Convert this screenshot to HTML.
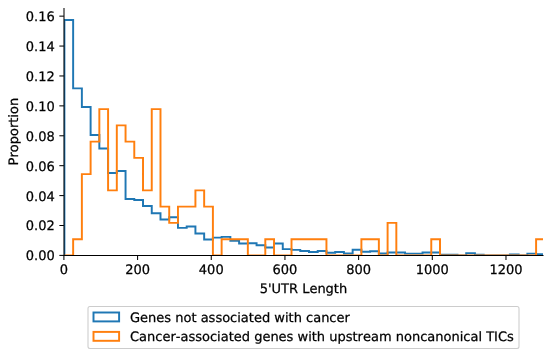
<!DOCTYPE html>
<html><head><meta charset="utf-8"><style>
html,body{margin:0;padding:0;background:#fff;}
body{width:550px;height:356px;overflow:hidden;}
svg{display:block;text-rendering:geometricPrecision;font-kerning:none;}
text{stroke:#000;stroke-width:0.25px;}
</style></head><body>
<svg width="550" height="356" viewBox="0 0 550 356">
<rect width="550" height="356" fill="#ffffff"/>
<defs><clipPath id="ax"><rect x="63.9" y="7.9" width="479.1" height="247.5"/></clipPath></defs>
<g clip-path="url(#ax)" fill="none" stroke-width="1.95" stroke-linejoin="miter" stroke-linecap="butt">
<path d="M64.40,255.40 L64.40,20.04 L73.14,20.04 L73.14,88.37 L81.87,88.37 L81.87,107.07 L90.61,107.07 L90.61,135.03 L99.34,135.03 L99.34,148.49 L108.08,148.49 L108.08,173.01 L116.81,173.01 L116.81,171.07 L125.55,171.07 L125.55,199.03 L134.28,199.03 L134.28,199.92 L143.01,199.92 L143.01,206.06 L151.75,206.06 L151.75,213.23 L160.49,213.23 L160.49,219.51 L169.22,219.51 L169.22,217.27 L177.95,217.27 L177.95,227.89 L186.69,227.89 L186.69,226.54 L195.42,226.54 L195.42,233.42 L204.16,233.42 L204.16,239.55 L212.90,239.55 L212.90,237.61 L221.63,237.61 L221.63,236.86 L230.36,236.86 L230.36,240.75 L239.10,240.75 L239.10,243.44 L247.84,243.44 L247.84,243.29 L256.57,243.29 L256.57,245.23 L265.30,245.23 L265.30,247.47 L274.04,247.47 L274.04,243.59 L282.77,243.59 L282.77,249.12 L291.51,249.12 L291.51,249.87 L300.25,249.87 L300.25,250.91 L308.98,250.91 L308.98,251.96 L317.72,251.96 L317.72,251.06 L326.45,251.06 L326.45,252.71 L335.18,252.71 L335.18,251.96 L343.92,251.96 L343.92,253.46 L352.65,253.46 L352.65,249.72 L361.39,249.72 L361.39,251.66 L370.12,251.66 L370.12,251.21 L378.86,251.21 L378.86,253.46 L387.60,253.46 L387.60,252.41 L396.33,252.41 L396.33,252.41 L405.06,252.41 L405.06,253.61 L413.80,253.61 L413.80,253.61 L422.53,253.61 L422.53,252.56 L431.27,252.56 L431.27,252.56 L440.00,252.56 L440.00,254.80 L448.74,254.80 L448.74,254.80 L457.48,254.80 L457.48,255.40 L466.21,255.40 L466.21,253.16 L474.94,253.16 L474.94,254.65 L483.68,254.65 L483.68,255.40 L492.41,255.40 L492.41,255.40 L501.15,255.40 L501.15,255.40 L509.88,255.40 L509.88,254.50 L518.62,254.50 L518.62,255.40 L527.36,255.40 L527.36,253.61 L536.09,253.61 L536.09,254.20 L544.82,254.20 L544.82,255.40" stroke="#1f77b4"/>
<path d="M64.40,255.40 L64.40,255.40 L73.14,255.40 L73.14,239.15 L81.87,239.15 L81.87,174.13 L90.61,174.13 L90.61,141.63 L99.34,141.63 L99.34,109.12 L108.08,109.12 L108.08,190.39 L116.81,190.39 L116.81,125.37 L125.55,125.37 L125.55,141.63 L134.28,141.63 L134.28,157.88 L143.01,157.88 L143.01,190.39 L151.75,190.39 L151.75,109.12 L160.49,109.12 L160.49,206.64 L169.22,206.64 L169.22,222.89 L177.95,222.89 L177.95,206.64 L186.69,206.64 L186.69,206.64 L195.42,206.64 L195.42,190.39 L204.16,190.39 L204.16,206.64 L212.90,206.64 L212.90,255.40 L221.63,255.40 L221.63,239.15 L230.36,239.15 L230.36,239.15 L239.10,239.15 L239.10,239.15 L247.84,239.15 L247.84,255.40 L256.57,255.40 L256.57,255.40 L265.30,255.40 L265.30,239.15 L274.04,239.15 L274.04,255.40 L282.77,255.40 L282.77,255.40 L291.51,255.40 L291.51,239.15 L300.25,239.15 L300.25,239.15 L308.98,239.15 L308.98,239.15 L317.72,239.15 L317.72,239.15 L326.45,239.15 L326.45,255.40 L335.18,255.40 L335.18,255.40 L343.92,255.40 L343.92,255.40 L352.65,255.40 L352.65,255.40 L361.39,255.40 L361.39,239.15 L370.12,239.15 L370.12,239.15 L378.86,239.15 L378.86,255.40 L387.60,255.40 L387.60,222.89 L396.33,222.89 L396.33,255.40 L405.06,255.40 L405.06,255.40 L413.80,255.40 L413.80,255.40 L422.53,255.40 L422.53,255.40 L431.27,255.40 L431.27,239.15 L440.00,239.15 L440.00,255.40 L448.74,255.40 L448.74,255.40 L457.48,255.40 L457.48,255.40 L466.21,255.40 L466.21,255.40 L474.94,255.40 L474.94,255.40 L483.68,255.40 L483.68,255.40 L492.41,255.40 L492.41,255.40 L501.15,255.40 L501.15,255.40 L509.88,255.40 L509.88,255.40 L518.62,255.40 L518.62,255.40 L527.36,255.40 L527.36,255.40 L536.09,255.40 L536.09,239.15 L544.82,239.15 L544.82,255.40" stroke="#ff7f0e"/>
</g>
<g stroke="#000" stroke-width="1.04" stroke-linecap="square">
<line x1="64.00" y1="8.40" x2="64.00" y2="255.4"/>
<line x1="63.9" y1="255.4" x2="543.0" y2="255.4"/>
</g>
<g stroke="#000" stroke-width="1.04">
<line x1="59.35" y1="255.40" x2="63.9" y2="255.40"/>
<line x1="59.35" y1="225.49" x2="63.9" y2="225.49"/>
<line x1="59.35" y1="195.59" x2="63.9" y2="195.59"/>
<line x1="59.35" y1="165.68" x2="63.9" y2="165.68"/>
<line x1="59.35" y1="135.78" x2="63.9" y2="135.78"/>
<line x1="59.35" y1="105.87" x2="63.9" y2="105.87"/>
<line x1="59.35" y1="75.96" x2="63.9" y2="75.96"/>
<line x1="59.35" y1="46.06" x2="63.9" y2="46.06"/>
<line x1="59.35" y1="16.15" x2="63.9" y2="16.15"/>
<line x1="63.90" y1="255.4" x2="63.90" y2="259.95"/>
<line x1="137.58" y1="255.4" x2="137.58" y2="259.95"/>
<line x1="211.26" y1="255.4" x2="211.26" y2="259.95"/>
<line x1="284.94" y1="255.4" x2="284.94" y2="259.95"/>
<line x1="358.62" y1="255.4" x2="358.62" y2="259.95"/>
<line x1="432.30" y1="255.4" x2="432.30" y2="259.95"/>
<line x1="505.98" y1="255.4" x2="505.98" y2="259.95"/>
</g>
<g font-family="'DejaVu Sans', 'Liberation Sans', sans-serif" font-size="13" fill="#000">
<text x="54.80" y="260.34" text-anchor="end">0.00</text>
<text x="54.80" y="230.43" text-anchor="end">0.02</text>
<text x="54.80" y="200.53" text-anchor="end">0.04</text>
<text x="54.80" y="170.62" text-anchor="end">0.06</text>
<text x="54.80" y="140.72" text-anchor="end">0.08</text>
<text x="54.80" y="110.81" text-anchor="end">0.10</text>
<text x="54.80" y="80.90" text-anchor="end">0.12</text>
<text x="54.80" y="51.00" text-anchor="end">0.14</text>
<text x="54.80" y="21.09" text-anchor="end">0.16</text>
<text x="63.90" y="274.3" text-anchor="middle">0</text>
<text x="137.58" y="274.3" text-anchor="middle">200</text>
<text x="211.26" y="274.3" text-anchor="middle">400</text>
<text x="284.94" y="274.3" text-anchor="middle">600</text>
<text x="358.62" y="274.3" text-anchor="middle">800</text>
<text x="432.30" y="274.3" text-anchor="middle">1000</text>
<text x="505.98" y="274.3" text-anchor="middle">1200</text>
<text x="303.45" y="292.5" text-anchor="middle">5'UTR Length</text>
<text transform="translate(17.9,131.65) rotate(-90)" text-anchor="middle">Proportion</text>
</g>
<rect x="88.0" y="306.6" width="431.0" height="42.0" rx="2" ry="2" fill="#fff" fill-opacity="0.8" stroke="#cccccc" stroke-width="1.04"/>
<rect x="93.5" y="312.5" width="25.6" height="8.9" fill="none" stroke="#1f77b4" stroke-width="1.95"/>
<rect x="93.5" y="331.9" width="25.6" height="8.9" fill="none" stroke="#ff7f0e" stroke-width="1.95"/>
<g font-family="'DejaVu Sans', 'Liberation Sans', sans-serif" font-size="13" fill="#000">
<text x="130.0" y="321.6">Genes not associated with cancer</text>
<text x="130.0" y="341.0">Cancer-associated genes with upstream noncanonical TICs</text>
</g>
</svg>
</body></html>
